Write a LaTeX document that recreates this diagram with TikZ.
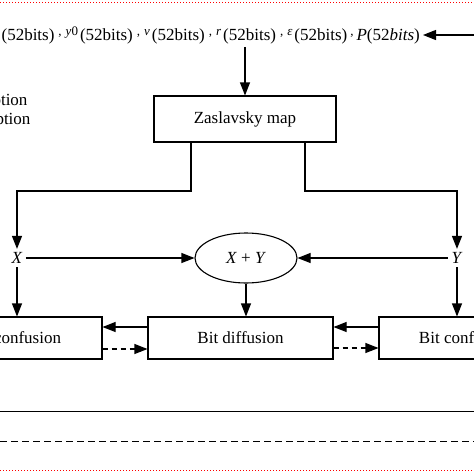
\documentclass[tikz,border=0pt]{standalone}
\usepackage{fontspec}
\setmainfont{Liberation Serif}
\usetikzlibrary{arrows.meta,shapes.geometric}
\newcommand{\keysep}[1]{\hspace{4pt}\raisebox{5pt}{\fontsize{13}{13}\selectfont,\hspace{4pt}#1}\hspace{2pt}}
\tikzset{
	every node/.style={font=\fontsize{17}{20}\selectfont},
	blockbox/.style={draw,line width=1.1pt,minimum height=42pt,inner sep=0pt},
	link/.style={line width=1.1pt,->},
	dlink/.style={line width=1.1pt,->,dash pattern=on 5pt off 4pt}
}
\begin{document}
\begin{tikzpicture}[x=1pt,y=-1pt,>={Triangle[length=13pt,width=10pt]}]
	\useasboundingbox (0,0) rectangle (474,474);
	\clip (0,0) rectangle (474,474);
	\coordinate (KeyIn) at (474,35);
	\coordinate (ZLeft) at (191,191);
	\coordinate (ZRight) at (305,191);
	
	% key line
	\node[anchor=east,inner sep=3pt] (keys) at (423,35) {(52bits)\keysep{\textit{y}0}(52bits)\keysep{\textit{v}}(52bits)\keysep{\textit{r}}(52bits)\keysep{\textit{ε}}(52bits)\hspace{3pt}\raisebox{5pt}{\fontsize{13}{13}\selectfont,}\hspace{3pt}\textit{P}(52\textit{bits})};
	\draw [link] (KeyIn) -- (keys);% input of the keys
	
	\node[anchor=east] (enc) at (31,102) {Encryption};
	\node[anchor=east] (dec) at (34,121) {Decryption};
	
	\node[blockbox,minimum width=182pt,minimum height=46pt] (zmap) at (245,119) {Zaslavsky map};
	\draw [link] (zmap.north |- keys.south) -- (zmap.north);
	
	\node (X) at (17,258) {\textit{X}};
	\node (Y) at (457,258) {\textit{Y}};
	\node[draw,ellipse,line width=1.1pt,minimum width=102pt,minimum height=50pt,inner sep=0pt] (xy) at (246,258) {\textit{X} + \textit{Y}};
	\draw [link] (zmap.south -| ZLeft) -- (ZLeft) -| (X);
	\draw [link] (zmap.south -| ZRight) -- (ZRight) -| (Y);
	\draw [link] (X) -- (xy);
	\draw [link] (Y) -- (xy);
	
	% bit level boxes
	\node[blockbox,minimum width=174pt] (conf) at (15,338) {Bit confusion};
	\node[blockbox,minimum width=185pt] (diff) at (240.5,338) {Bit diffusion};
	\node[blockbox,minimum width=172pt] (rconf) at (465,338) {Bit confusion};
	\draw [link] (X) -- (X |- conf.north);
	\draw [link] (Y) -- (Y |- rconf.north);
	\draw [link] (xy.south) -- (xy.south |- diff.north);
	
	\draw [link] ([yshift=11pt]diff.west) -- ([yshift=11pt]diff.west -| conf.east);
	\draw [dlink] ([yshift=-11pt]conf.east) -- ([yshift=-11pt]conf.east -| diff.west);
	\draw [link] ([yshift=11pt]rconf.west) -- ([yshift=11pt]rconf.west -| diff.east);
	\draw [dlink] ([yshift=-10pt]diff.east) -- ([yshift=-10pt]diff.east -| rconf.west);
	
	% legend lines and frame
	\draw [line width=1pt] (0,411) -- (474,411);
	\draw [line width=1pt,dash pattern=on 7pt off 4pt] (0,441) -- (474,441);
	\draw [red,line width=1pt,dotted] (0,2) -- (474,2);
	\draw [red,line width=1pt,dotted] (0,470) -- (474,470);
\end{tikzpicture}
\end{document}
